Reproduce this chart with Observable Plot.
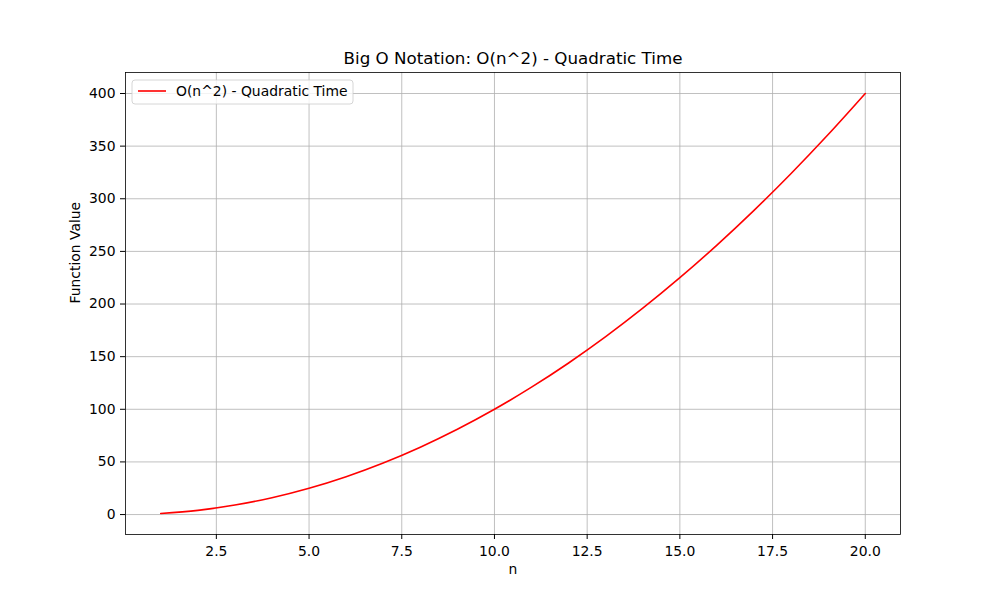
<!DOCTYPE html>
<html><head><meta charset="utf-8">
<script src="https://cdn.jsdelivr.net/npm/d3@7"></script>
<script src="https://cdn.jsdelivr.net/npm/@observablehq/plot@0.6"></script>
<style>body{margin:0;background:#fff} svg{font-family:"DejaVu Sans"}</style>
</head><body><div id="chart"></div>
<script>
const nValues = [1,2,3,4,5,6,7,8,9,10,11,12,13,14,15,16,17,18,19,20];
const fValues = [1,4,9,16,25,36,49,64,81,100,121,144,169,196,225,256,289,324,361,400];
const xTicks = [2.5,5,7.5,10,12.5,15,17.5,20];
const yTicks = [0,50,100,150,200,250,300,350,400];
const title = "Big O Notation: O(n^2) - Quadratic Time";
const seriesLabel = "O(n^2) - Quadratic Time";
const xLabel = "n";
const yLabel = "Function Value";

const data = nValues.map((n, i) => ({n, f: fValues[i]}));

const chart = Plot.plot({
  width: 1000, height: 600,
  marginLeft: 125, marginRight: 100, marginTop: 72, marginBottom: 66,
  style: {fontFamily: "DejaVu Sans", fontSize: "13.9px", background: "#fff", color: "#000", overflow: "visible"},
  x: {domain: [0.05, 20.95]},
  y: {domain: [-18.95, 419.95]},
  marks: [
    Plot.gridX(xTicks, {stroke: "#b0b0b0", strokeOpacity: 1, strokeWidth: 0.8}),
    Plot.gridY(yTicks, {stroke: "#b0b0b0", strokeOpacity: 1, strokeWidth: 0.8}),
    Plot.line(data, {x: "n", y: "f", stroke: "red", strokeWidth: 1.6, curve: "catmull-rom"}),
    Plot.frame({stroke: "#000", strokeWidth: 0.8}),
    Plot.axisX(xTicks, {tickFormat: d3.format(".1f"), tickSize: 5, tickPadding: 7, label: null, fontSize: 13.9}),
    Plot.axisY(yTicks, {tickSize: 5, tickPadding: 5, label: null, fontSize: 13.9}),
    Plot.text([title], {frameAnchor: "top", dy: -9, lineAnchor: "bottom", fontSize: 16.7, fill: "#000"}),
    Plot.text([xLabel], {frameAnchor: "bottom", dy: 39, fontSize: 13.9, fill: "#000"}),
    Plot.text([yLabel], {frameAnchor: "left", dx: -50, rotate: -90, fontSize: 13.9, fill: "#000"})
  ]
});

const svg = d3.select(chart);
const lg = svg.append("g").attr("text-anchor", "start");
lg.append("rect").attr("x", 132).attr("y", 80).attr("width", 221).attr("height", 24)
  .attr("rx", 3).attr("fill", "#fff").attr("fill-opacity", 0.8).attr("stroke", "#cccccc").attr("stroke-width", 0.8);
lg.append("line").attr("x1", 138).attr("x2", 166).attr("y1", 91).attr("y2", 91)
  .attr("stroke", "red").attr("stroke-width", 1.6);
lg.append("text").attr("x", 176).attr("y", 91).attr("dy", "0.35em").attr("text-anchor", "start")
  .attr("font-size", 13.9).attr("fill", "#000").text(seriesLabel);

document.getElementById("chart").appendChild(chart);
</script>
</body></html>
